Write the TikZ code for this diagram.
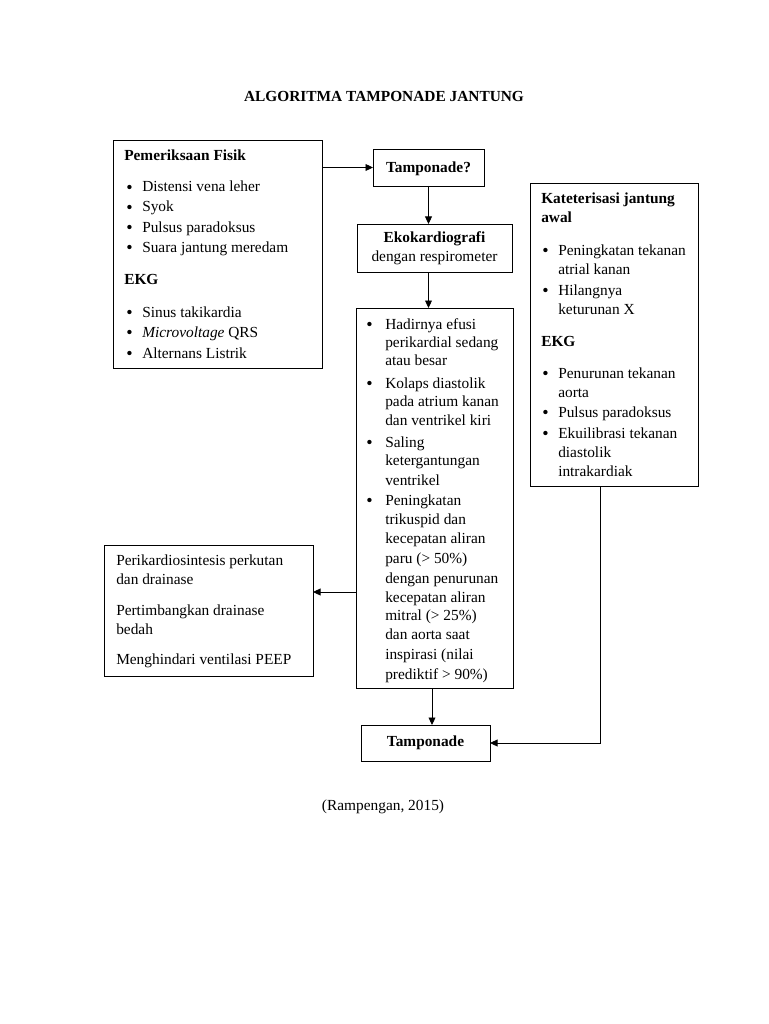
\documentclass[tikz,border=0pt]{standalone}
\usepackage{fontspec}
\setmainfont{Liberation Serif}
\usetikzlibrary{arrows.meta}
\newcommand{\mybul}{\raisebox{-1.1pt}{\fontsize{14.5}{14.4}\selectfont\textbullet}}
\begin{document}
\begin{tikzpicture}[x=0.8pt,y=-0.8pt,
  box/.style={draw,line width=0.7pt,inner sep=0pt,outer sep=0pt,anchor=north west},
  ln/.style={anchor=base west,inner sep=0pt,font=\fontsize{12.3}{14.4}\selectfont},
  hd/.style={ln,font=\fontsize{12.3}{14.4}\selectfont\bfseries},
  arr/.style={line width=0.7pt,-{Triangle[length=6pt,width=5.5pt]}}]
\useasboundingbox (0,0) rectangle (768,1024);
\fill[white] (0,0) rectangle (768,1024);

% title and citation
\node[anchor=base,inner sep=0pt,font=\fontsize{12.3}{14.4}\selectfont\bfseries] (title) at (384,102) {ALGORITMA TAMPONADE JANTUNG};
\node[anchor=base,inner sep=0pt,font=\fontsize{12.3}{14.4}\selectfont] (cite) at (383,810) {(Rampengan, 2015)};

% boxes
\node[box,minimum width=167.2pt,minimum height=182.4pt] (pf) at (113,140) {};
\node[box,minimum width=88.8pt,minimum height=29.6pt,font=\fontsize{12.3}{14.4}\selectfont\bfseries,text depth=-1pt] (tq) at (373,149) {Tamponade?};
\node[box,minimum width=124pt,minimum height=38.4pt,align=center,font=\fontsize{12.3}{15.2}\selectfont] (eko) at (357,224) {\textbf{Ekokardiografi}\\dengan respirometer};
\node[box,minimum width=125.6pt,minimum height=304pt] (mid) at (356,308) {};
\node[box,minimum width=134.4pt,minimum height=242.4pt] (kat) at (530,183) {};
\node[box,minimum width=167.2pt,minimum height=104.8pt] (per) at (104,545) {};
\node[box,minimum width=103.2pt,minimum height=28.8pt,font=\fontsize{12.3}{14.4}\selectfont\bfseries] (tam) at (361,725) {Tamponade};

% left box text
\node[hd] (pfh1) at (124,161) {Pemeriksaan Fisik};
\node[hd] (pfh2) at (124,284) {EKG};
\foreach \yy/\tt [count=\i] in {186/Distensi vena leher,206/Syok,226/Pulsus paradoksus,246/Suara jantung meredam,311/Sinus takikardia,331/\textit{Microvoltage} QRS,352/Alternans Listrik}{
  \node[ln] (pft\i) at (142,\yy+6) {\tt};
  \node[ln] (pfb\i) at (126,\yy+6) {\mybul};
}

% middle box text
\foreach \yy/\tt [count=\i] in {323/Hadirnya efusi,341/perikardial sedang,359/atau besar,382/Kolaps diastolik,400/pada atrium kanan,419/dan ventrikel kiri,441/Saling,459/ketergantungan,479/ventrikel,499/Peningkatan,518/trikuspid dan,537/kecepatan aliran,557/paru (> 50\%),577/dengan penurunan,596/kecepatan aliran,614/mitral (> 25\%),633/dan aorta saat,653/inspirasi (nilai,673/prediktif > 90\%)}{
  \node[ln] (mt\i) at (385,\yy+6) {\tt};
}
\foreach \yy [count=\i] in {323,382,441,499}{
  \node[ln] (mb\i) at (366,\yy+6) {\mybul};
}

% right box text
\node[hd] (kh1) at (541,204) {Kateterisasi jantung};
\node[hd] (kh2) at (541,223) {awal};
\node[hd] (kh3) at (541,346) {EKG};
\foreach \yy/\tt [count=\i] in {249/Peningkatan tekanan,268/atrial kanan,289/Hilangnya,308/keturunan X,372/Penurunan tekanan,391/aorta,411/Pulsus paradoksus,432/Ekuilibrasi tekanan,451/diastolik,470/intrakardiak}{
  \node[ln] (kt\i) at (558,\yy+6) {\tt};
}
\foreach \yy [count=\i] in {249,289,372,411,432}{
  \node[ln] (kb\i) at (542,\yy+6) {\mybul};
}

% bottom-left box text
\foreach \yy/\tt [count=\i] in {559/Perikardiosintesis perkutan,578/dan drainase,609/Pertimbangkan drainase,628/bedah,658/Menghindari ventilasi PEEP}{
  \node[ln] (pt\i) at (116,\yy+6) {\tt};
}

% connectors
\coordinate (a1) at (356,592);
\coordinate (k1) at (600,0);
\coordinate (m1) at (432,0);
\draw[arr] (pf.east |- tq.west) -- (tq.west);
\draw[arr] (tq.south) -- (tq.south |- eko.north);
\draw[arr] (tq.south |- eko.south) -- (tq.south |- mid.north);
\draw[arr] (mid.west |- a1) -- (per.east |- a1);
\draw[arr] (mid.south -| m1) -- (tam.north -| m1);
\draw[arr] (kat.south -| k1) |- (tam.east);
\end{tikzpicture}
\end{document}
